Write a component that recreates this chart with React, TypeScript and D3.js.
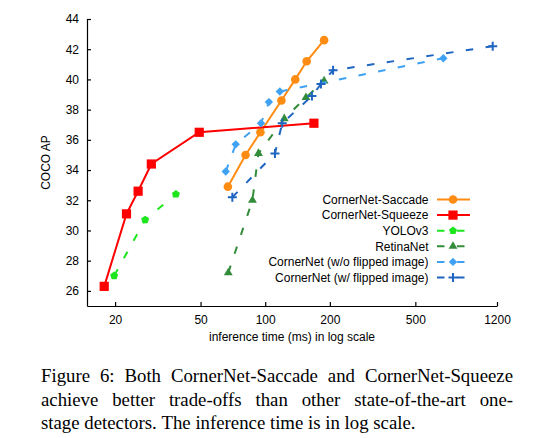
import { useRef, useEffect } from 'react';
import * as d3 from 'd3';

// inference time (ms) / COCO AP
const saccadeTime = [67, 81, 95, 119, 138, 156, 188];
const saccadeAP = [32.9, 35.0, 36.5, 38.6, 40.0, 41.2, 42.6];

const squeezeTime = [17.8, 22.6, 25.6, 29.5, 49.3, 168.6];
const squeezeAP = [26.3, 31.1, 32.6, 34.4, 36.5, 37.1];

const yoloTime = [19.8, 27.6, 38.4];
const yoloAP = [27.0, 30.7, 32.4];

const retinaTime = [67.3, 87.2, 93, 122.7, 154.8, 188];
const retinaAP = [27.2, 32.0, 35.1, 37.4, 38.8, 39.9];

const cnNoFlipTime = [65.5, 72.9, 95.6, 104, 117, 675];
const cnNoFlipAP = [33.9, 35.7, 37.1, 38.5, 39.2, 41.4];

const cnFlipTime = [70.3, 111, 120, 165, 181.8, 207, 1146];
const cnFlipAP = [32.2, 35.1, 37.1, 38.9, 39.7, 40.6, 42.2];

const xTicks = [20, 50, 100, 200, 500, 1200];
const yTicks = [26, 28, 30, 32, 34, 36, 38, 40, 42, 44];

const captionLines = [
    'Figure 6: Both CornerNet-Saccade and CornerNet-Squeeze',
    'achieve better trade-offs than other state-of-the-art one-',
    'stage detectors. The inference time is in log scale.',
];

type Marker = 'circle' | 'square' | 'pentagon' | 'triangle' | 'diamond' | 'plus';

const series = [
    { name: 'CornerNet-Saccade', t: saccadeTime, ap: saccadeAP, color: '#ff8c12', dash: null, marker: 'circle' as Marker },
    { name: 'CornerNet-Squeeze', t: squeezeTime, ap: squeezeAP, color: '#ff0000', dash: null, marker: 'square' as Marker },
    { name: 'YOLOv3', t: yoloTime, ap: yoloAP, color: '#1ee61e', dash: '7.5,12.5', marker: 'pentagon' as Marker },
    { name: 'RetinaNet', t: retinaTime, ap: retinaAP, color: '#338c3a', dash: '7.5,12.5', marker: 'triangle' as Marker },
    { name: 'CornerNet (w/o flipped image)', t: cnNoFlipTime, ap: cnNoFlipAP, color: '#40a2f2', dash: '7.5,12.5', marker: 'diamond' as Marker },
    { name: 'CornerNet (w/ flipped image)', t: cnFlipTime, ap: cnFlipAP, color: '#1f65c2', dash: '7.5,12.5', marker: 'plus' as Marker },
];

function pentagon(r: number) {
    const pts = d3.range(5).map((k) => {
        const a = -Math.PI / 2 + (k * 2 * Math.PI) / 5;
        return [r * Math.cos(a), r * Math.sin(a)];
    });
    return 'M' + pts.map((p) => p.join(',')).join('L') + 'Z';
}

function drawMarker(g: d3.Selection<SVGGElement, unknown, null, undefined>, m: Marker, color: string, cx: number, cy: number) {
    const tr = `translate(${cx},${cy})`;
    if (m === 'circle') {
        g.append('circle').attr('cx', cx).attr('cy', cy).attr('r', 4.3).attr('fill', color);
    } else if (m === 'square') {
        g.append('rect').attr('x', cx - 4.6).attr('y', cy - 4.6).attr('width', 9.2).attr('height', 9.2).attr('fill', color);
    } else if (m === 'pentagon') {
        g.append('path').attr('d', pentagon(4.2)).attr('transform', tr).attr('fill', color);
    } else if (m === 'triangle') {
        g.append('path').attr('d', d3.symbol(d3.symbolTriangle, 34)()).attr('transform', tr).attr('fill', color);
    } else if (m === 'diamond') {
        g.append('path').attr('d', 'M0,-4.2L4.2,0L0,4.2L-4.2,0Z').attr('transform', tr).attr('fill', color);
    } else {
        g.append('path').attr('d', 'M-4.5,0H4.5M0,-4.5V4.5').attr('transform', tr).attr('stroke', color).attr('stroke-width', 2).attr('fill', 'none');
    }
}

export default function App() {
    const ref = useRef<SVGSVGElement>(null);

    useEffect(() => {
        if (!ref.current) return;
        const svg = d3.select(ref.current);
        svg.selectAll('*').remove();

        const x = d3.scaleLog().domain([14.8, 1200]).range([87, 497]);
        const y = d3.scaleLinear().domain([25, 44]).range([306, 19]);

        const font = '"Liberation Sans", Arial, sans-serif';

        // axes
        const yAxis = svg
            .append('g')
            .attr('transform', 'translate(87,0)')
            .call(d3.axisLeft(y).tickValues(yTicks).tickSizeInner(-4).tickSizeOuter(0).tickPadding(8));
        const xAxis = svg
            .append('g')
            .attr('transform', 'translate(0,306)')
            .call(
                d3
                    .axisBottom(x)
                    .tickValues(xTicks)
                    .tickFormat((d) => String(d))
                    .tickSizeInner(-4)
                    .tickSizeOuter(0)
                    .tickPadding(9)
            );
        [yAxis, xAxis].forEach((a) => {
            a.attr('font-family', font).attr('font-size', 12);
            a.selectAll('path, line').attr('stroke', '#000').attr('stroke-width', 1.2);
            a.selectAll('text').attr('fill', '#000');
        });

        svg.append('text')
            .attr('x', 292)
            .attr('y', 340.5)
            .attr('text-anchor', 'middle')
            .attr('font-family', font)
            .attr('font-size', 12)
            .text('inference time (ms) in log scale');
        svg.append('text')
            .attr('transform', 'translate(49.5,162.5) rotate(-90)')
            .attr('text-anchor', 'middle')
            .attr('font-family', font)
            .attr('font-size', 12)
            .text('COCO AP');

        // series
        const line = d3
            .line<[number, number]>()
            .x((d) => x(d[0]))
            .y((d) => y(d[1]));
        series.forEach((s) => {
            const pts = s.t.map((t, i) => [t, s.ap[i]] as [number, number]);
            const g = svg.append('g');
            g.append('path')
                .attr('d', line(pts))
                .attr('fill', 'none')
                .attr('stroke', s.color)
                .attr('stroke-width', 2)
                .attr('stroke-dasharray', s.dash);
            pts.forEach((p) => drawMarker(g, s.marker, s.color, x(p[0]), y(p[1])));
        });

        // legend
        const lg = svg.append('g');
        series.forEach((s, i) => {
            const ly = 199.5 + i * 15.6;
            lg.append('text')
                .attr('x', 428.5)
                .attr('y', ly + 4.3)
                .attr('text-anchor', 'end')
                .attr('font-family', font)
                .attr('font-size', 12)
                .text(s.name);
            lg.append('line')
                .attr('x1', 437)
                .attr('x2', 470)
                .attr('y1', ly)
                .attr('y2', ly)
                .attr('stroke', s.color)
                .attr('stroke-width', 2)
                .attr('stroke-dasharray', s.dash);
            drawMarker(lg, s.marker, s.color, 453, ly);
        });

        // caption, justified
        const cap = svg.append('g').attr('font-family', '"Liberation Serif", "Times New Roman", serif').attr('font-size', 18.8);
        const left = 41;
        const right = 513;
        captionLines.forEach((ln, li) => {
            const by = 381.7 + li * 23.8;
            const words = ln.split(' ');
            const nodes = words.map((w) => cap.append('text').attr('y', by).text(w));
            const widths = nodes.map((n) => (n.node() as SVGTextElement).getComputedTextLength());
            const total = d3.sum(widths);
            const justify = li < captionLines.length - 1;
            const spaceW = justify ? (right - left - total) / (words.length - 1) : 4.7;
            let cx = left;
            nodes.forEach((n, k) => {
                n.attr('x', cx);
                cx += widths[k] + spaceW;
            });
        });
    }, []);

    return (
        <svg
            ref={ref}
            width={537}
            height={438}
            style={{ position: 'absolute', left: 0, top: 0, background: '#fff' }}
        />
    );
}
